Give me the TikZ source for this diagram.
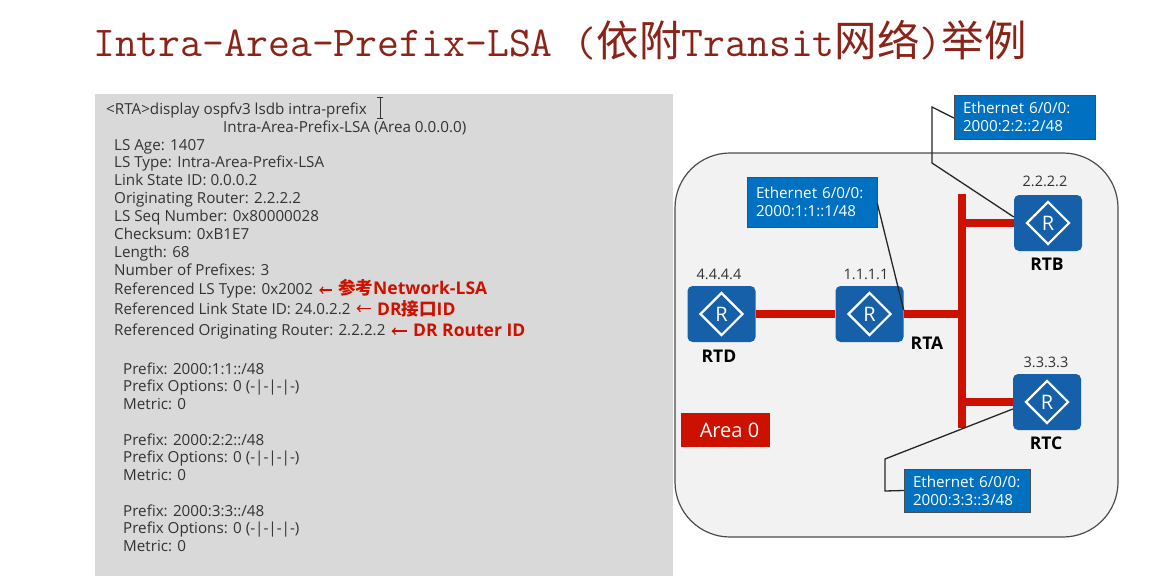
\documentclass[tikz,border=0pt]{standalone}
\usepackage{fontspec}
\setmainfont{Open Sans}
\newfontfamily\cjk{Noto Sans CJK SC}
\usetikzlibrary{shapes.geometric, arrows, positioning}
\definecolor{mtitle}{HTML}{8A2318}
\definecolor{mpanel}{HTML}{D9D9D9}
\definecolor{marea}{HTML}{F2F2F2}
\definecolor{mrouter}{HTML}{1560A8}
\definecolor{mbox}{HTML}{0070C0}
\definecolor{mred}{HTML}{CC1100}
\definecolor{mtext}{HTML}{333333}
\tikzstyle{title} = [anchor=mid west, inner sep=0pt, text=mtitle, font=\fontsize{42.5}{44}\selectfont\ttfamily]
\tikzstyle{line} = [anchor=mid west, inner sep=0pt, yshift=-3.5pt, text=mtext, font=\fontsize{15.2}{17}\selectfont]
\tikzstyle{note} = [anchor=mid west, inner sep=0pt, text=mred, font=\fontsize{17.5}{19}\selectfont\bfseries]
\tikzstyle{router} = [rectangle, rounded corners=5pt, minimum width=68pt, minimum height=56pt, inner sep=0pt, fill=mrouter]
\tikzstyle{routerdia} = [diamond, draw=white, line width=2.2pt, minimum width=43pt, minimum height=43pt, inner sep=0pt, text=white, font=\fontsize{20}{22}\selectfont]
\tikzstyle{rid} = [inner sep=0pt, text=mtext, font=\fontsize{14.5}{16}\selectfont]
\tikzstyle{rname} = [inner sep=0pt, text=black, font=\fontsize{17.5}{19}\selectfont\bfseries]
\tikzstyle{ifbox} = [rectangle, draw=black!70, fill=mbox, text=white, inner xsep=9pt, inner ysep=0pt, align=left, font=\fontsize{15.2}{18}\selectfont]
\tikzstyle{bus} = [mred, line width=8pt]
\tikzstyle{callout} = [black!85, line width=1.3pt]
\tikzstyle{notearrow} = [mred, line width=1.6pt, ->, >=to, shorten <=6pt, shorten >=6pt]
\begin{document}
\begin{tikzpicture}[x=1pt, y=-1pt]
\useasboundingbox [fill=white] (0,0) rectangle (1166,583);
\node (title) [title] at (93,54) {Intra-Area-Prefix-LSA ({\cjk 依附}Transit{\cjk 网络}){\cjk 举例}};
\node (panel) [fill=mpanel, inner sep=0pt, minimum width=578pt, minimum height=482pt] at (384,335) {};
\foreach \idx/\posx/\posy/\txt in {
  a/106/108/{<RTA>display ospfv3 lsdb intra-prefix},
  b/223/126/{Intra-Area-Prefix-LSA (Area 0.0.0.0)},
  c/114/144/{LS Age: 1407},
  d/114/161/{LS Type: Intra-Area-Prefix-LSA},
  e/114/179/{Link State ID: 0.0.0.2},
  f/114/197/{Originating Router: 2.2.2.2},
  g/114/215/{LS Seq Number: 0x80000028},
  h/114/233/{Checksum: 0xB1E7},
  i/114/251/{Length: 68},
  j/114/269/{Number of Prefixes: 3},
  k/114/288/{Referenced LS Type: 0x2002},
  l/114/308/{Referenced Link State ID: 24.0.2.2},
  m/114/329/{Referenced Originating Router: 2.2.2.2},
  n/123/368/{Prefix: 2000:1:1::/48},
  o/123/385/{Prefix Options: 0 (-|-|-|-)},
  p/123/403/{Metric: 0},
  q/123/439/{Prefix: 2000:2:2::/48},
  r/123/456/{Prefix Options: 0 (-|-|-|-)},
  s/123/474/{Metric: 0},
  t/123/510/{Prefix: 2000:3:3::/48},
  u/123/527/{Prefix Options: 0 (-|-|-|-)},
  v/123/545/{Metric: 0}}
  \node (line\idx) [line] at (\posx,\posy) {\txt};
\draw [black!80, line width=0.6pt] (377,97) -- (383,97) (380,97) -- (380,118) (377,118) -- (383,118);
\node (note1) [note] at (338,292) {{\cjk 参考}Network-LSA};
\node (note2) [note] at (377,313) {DR{\cjk 接口}ID};
\node (note3) [note] at (413,334) {DR Router ID};
\draw [notearrow] (linek.east -| note1.west) -- (linek.east);
\draw [notearrow] (linel.east -| note2.west) -- (linel.east);
\draw [notearrow] (linem.east -| note3.west) -- (linem.east);
\node (area) [rectangle, rounded corners=55pt, draw=black!70, line width=1.2pt, fill=marea, minimum width=443pt, minimum height=384pt] at (896.5,345) {};
\node (rtd) [router] at (721.5,314) {};
\node (rta) [router] at (869.5,314) {};
\node (rtb) [router] at (1048,223) {};
\node (rtc) [router] at (1047,402) {};
\coordinate (bustop) at (962,194);
\coordinate (busbot) at (962,428);
\draw [bus] (rtd) -- (rta);
\draw [bus] (bustop) -- (busbot);
\draw [bus] (rta.east) -- (rta.east -| bustop);
\draw [bus] (rtb.west) -- (rtb.west -| bustop);
\draw [bus] (rtc.west) -- (rtc.west -| bustop);
\node (dia1) [routerdia] at (rtd) {R};
\node (dia2) [routerdia] at (rta) {R};
\node (dia3) [routerdia] at (rtb) {R};
\node (dia4) [routerdia] at (rtc) {R};
\node (id4) [rid] at (719,274) {4.4.4.4};
\node (id1) [rid] at (866,274) {1.1.1.1};
\node (id2) [rid] at (1045,181) {2.2.2.2};
\node (id3) [rid] at (1046,362) {3.3.3.3};
\node (named) [rname] at (719,356) {RTD};
\node (nameda) [rname] at (927,343) {RTA};
\node (namedb) [rname] at (1047,264) {RTB};
\node (namedc) [rname] at (1046,443) {RTC};
\node (areaname) [fill=mred, text=white, inner sep=0pt, minimum width=89pt, minimum height=34pt, font=\fontsize{20}{22}\selectfont] at (725.5,430) {\hspace*{8pt}Area 0};
\node (ifb) [ifbox, text width=123pt, minimum height=44pt] at (1024.5,117) {Ethernet 6/0/0:\\2000:2:2::2/48};
\node (ifa) [ifbox, text width=112pt, minimum height=50pt] at (812,202) {Ethernet 6/0/0:\\2000:1:1::1/48};
\node (ifc) [ifbox, text width=108pt, minimum height=43pt] at (967,490.5) {Ethernet 6/0/0:\\2000:3:3::3/48};
\coordinate (kneeb1) at (932,107);
\coordinate (kneeb2) at (932,163);
\coordinate (kneec1) at (885,491);
\coordinate (kneec2) at (885,459);
\draw [callout] (ifb.west |- 0,118) -- (kneeb1) -- (kneeb2) -- (rtb.west |- 0,217);
\draw [callout] (ifa.east |- 0,203) -- (rta.east |- 0,310);
\draw [callout] (ifc.west) -- (kneec1) -- (kneec2) -- (rtc.west |- 0,409);
\end{tikzpicture}
\end{document}
